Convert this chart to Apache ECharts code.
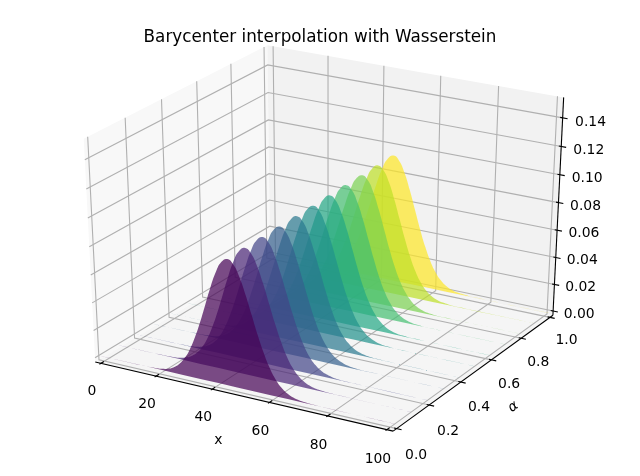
<!DOCTYPE html>
<html>
<head>
<meta charset="utf-8">
<style>html,body{margin:0;padding:0;background:#fff}#chart{width:640px;height:476px}</style>
<script src="https://cdn.jsdelivr.net/npm/echarts@6/dist/echarts.min.js"></script>
</head>
<body>
<div id="chart"></div>
<script>
var titleText = 'Barycenter interpolation with Wasserstein';
var xTicks = [0, 20, 40, 60, 80, 100];
var xTickLabels = ['0', '20', '40', '60', '80', '100'];
var alphaTicks = [0, 0.2, 0.4, 0.6, 0.8, 1];
var alphaTickLabels = ['0.0', '0.2', '0.4', '0.6', '0.8', '1.0'];
var zTicks = [0, 0.02, 0.04, 0.06, 0.08, 0.10, 0.12, 0.14];
var zTickLabels = ['0.00', '0.02', '0.04', '0.06', '0.08', '0.10', '0.12', '0.14'];
var xLim = [0, 100], alphaLim = [0, 1], zLim = [0, 0.151];

var alphas = [0, 0.1, 0.2, 0.3, 0.4, 0.5, 0.6, 0.7, 0.8, 0.9, 1];
var colors = ['#440154', '#482475', '#414487', '#355f8d', '#2a788e', '#21918c', '#22a884', '#44bf70', '#7ad151', '#bddf26', '#fde725'];
var xs = [0, 13, 15, 17, 19, 21, 23, 25, 27, 29, 31, 33, 35, 37, 39, 41, 43, 45, 47, 49, 51, 53, 55, 57, 59, 61, 63, 65, 67, 69, 71, 73, 75, 77, 79, 100];
var curve0 = [0, .0000, .0001, .0002, .0005, .0010, .0020, .0039, .0071, .0122, .0194, .0292, .0411, .0545, .0678, .0792, .0870, .0898, .0870, .0792, .0678, .0545, .0411, .0292, .0194, .0122, .0071, .0039, .0020, .0010, .0005, .0002, .0001, .0001, 0, 0];
var curve1 = [0, .0000, .0001, .0002, .0005, .0010, .0021, .0040, .0072, .0122, .0195, .0293, .0412, .0546, .0680, .0795, .0873, .0901, .0873, .0795, .0680, .0546, .0412, .0293, .0195, .0122, .0072, .0040, .0021, .0010, .0005, .0002, .0001, .0001, 0, 0];
var curve2 = [0, .0000, .0001, .0002, .0005, .0010, .0021, .0040, .0072, .0122, .0196, .0294, .0414, .0548, .0682, .0798, .0876, .0904, .0876, .0798, .0682, .0548, .0414, .0294, .0196, .0122, .0072, .0040, .0021, .0010, .0005, .0002, .0001, .0001, 0, 0];
var curve3 = [0, .0000, .0001, .0002, .0005, .0010, .0021, .0040, .0072, .0123, .0196, .0294, .0415, .0549, .0684, .0800, .0878, .0906, .0878, .0800, .0684, .0549, .0415, .0294, .0196, .0123, .0072, .0040, .0021, .0010, .0005, .0002, .0001, .0001, 0, 0];
var curve4 = [0, .0000, .0001, .0002, .0005, .0010, .0021, .0040, .0072, .0123, .0196, .0295, .0416, .0551, .0685, .0801, .0880, .0908, .0880, .0801, .0685, .0551, .0416, .0295, .0196, .0123, .0072, .0040, .0021, .0010, .0005, .0002, .0001, .0001, 0, 0];
var curve5 = [0, .0000, .0001, .0002, .0005, .0010, .0021, .0040, .0073, .0123, .0197, .0296, .0417, .0553, .0688, .0804, .0883, .0911, .0883, .0804, .0688, .0553, .0417, .0296, .0197, .0123, .0073, .0040, .0021, .0010, .0005, .0002, .0001, .0001, 0, 0];
var curve6 = [0, .0000, .0001, .0002, .0005, .0010, .0021, .0040, .0073, .0124, .0198, .0297, .0419, .0555, .0691, .0807, .0887, .0915, .0887, .0807, .0691, .0555, .0419, .0297, .0198, .0124, .0073, .0040, .0021, .0010, .0005, .0002, .0001, .0001, 0, 0];
var curve7 = [0, .0000, .0001, .0002, .0005, .0010, .0021, .0040, .0073, .0124, .0199, .0298, .0421, .0557, .0694, .0811, .0891, .0919, .0891, .0811, .0694, .0557, .0421, .0298, .0199, .0124, .0073, .0040, .0021, .0010, .0005, .0002, .0001, .0001, 0, 0];
var curve8 = [0, .0000, .0001, .0002, .0005, .0010, .0021, .0040, .0073, .0125, .0199, .0299, .0422, .0559, .0696, .0814, .0894, .0922, .0894, .0814, .0696, .0559, .0422, .0299, .0199, .0125, .0073, .0040, .0021, .0010, .0005, .0002, .0001, .0001, 0, 0];
var curve9 = [0, .0000, .0001, .0002, .0005, .0010, .0021, .0041, .0074, .0125, .0200, .0301, .0424, .0562, .0699, .0817, .0897, .0926, .0897, .0817, .0699, .0562, .0424, .0301, .0200, .0125, .0074, .0041, .0021, .0010, .0005, .0002, .0001, .0001, 0, 0];
var curve10 = [0, .0000, .0001, .0002, .0005, .0010, .0021, .0041, .0074, .0126, .0201, .0302, .0426, .0564, .0702, .0821, .0901, .0930, .0901, .0821, .0702, .0564, .0426, .0302, .0201, .0126, .0074, .0041, .0021, .0010, .0005, .0002, .0001, .0001, 0, 0];
var curves = [curve0, curve1, curve2, curve3, curve4, curve5, curve6, curve7, curve8, curve9, curve10];

// camera fitted to the picture, close to a default mplot3d view
var DELTA = 1 / 48, LO = -DELTA, HI = 1 + DELTA, ZSCALE = 0.97;
var el = 28 * Math.PI / 180, az = -60 * Math.PI / 180, DIST = 10;
var n = [Math.cos(az) * Math.cos(el), Math.sin(az) * Math.cos(el), Math.sin(el)];
var u = [-n[1], n[0], 0];
var uLen = Math.sqrt(u[0] * u[0] + u[1] * u[1]);
u = [u[0] / uLen, u[1] / uLen, 0];
var v = [n[1] * u[2] - n[2] * u[1], n[2] * u[0] - n[0] * u[2], n[0] * u[1] - n[1] * u[0]];

function dot(a, b) { return a[0] * b[0] + a[1] * b[1] + a[2] * b[2]; }
// p is in the unit cube, returns axes coordinates
function project(p) {
	var d = [p[0] - 0.5, p[1] - 0.5, (p[2] - 0.5) * ZSCALE];
	var w = DIST - dot(n, d);
	return [dot(u, d) / w, dot(v, d) / w];
}
function nx(x) { return (x - xLim[0]) / (xLim[1] - xLim[0]); }
function ny(a) { return (a - alphaLim[0]) / (alphaLim[1] - alphaLim[0]); }
function nz(z) { return (z - zLim[0]) / (zLim[1] - zLim[0]); }
function toPx(api, p) { return api.coord(project(p)); }
function linePts(api, pts) { return pts.map(function(p) { return toPx(api, p); }); }

function polyline(api, pts, color, width) {
	return {
		type: 'polyline',
		shape: { points: linePts(api, pts) },
		style: { stroke: color, lineWidth: width, fill: null }
	};
}

var panes = [
	{ color: 'rgb(248,248,248)', pts: [[LO, LO, LO], [LO, HI, LO], [LO, HI, HI], [LO, LO, HI]] },
	{ color: 'rgb(242,242,242)', pts: [[LO, HI, LO], [HI, HI, LO], [HI, HI, HI], [LO, HI, HI]] },
	{ color: 'rgb(245,245,245)', pts: [[LO, LO, LO], [HI, LO, LO], [HI, HI, LO], [LO, HI, LO]] }
];

function renderFrame(params, api) {
	var kids = [];
	panes.forEach(function(p) {
		kids.push({ type: 'polygon', shape: { points: linePts(api, p.pts) }, style: { fill: p.color } });
	});
	var grey = '#b0b0b0', gw = 1.1, black = '#000', tw = 1.1;
	xTicks.forEach(function(t) {
		var x = nx(t);
		kids.push(polyline(api, [[x, LO, LO], [x, HI, LO], [x, HI, HI]], grey, gw));
	});
	alphaTicks.forEach(function(t) {
		var y = ny(t);
		kids.push(polyline(api, [[HI, y, LO], [LO, y, LO], [LO, y, HI]], grey, gw));
	});
	zTicks.forEach(function(t) {
		var z = nz(t);
		kids.push(polyline(api, [[LO, LO, z], [LO, HI, z], [HI, HI, z]], grey, gw));
	});
	kids.push(polyline(api, [[LO, LO, LO], [HI, LO, LO]], black, tw));
	kids.push(polyline(api, [[HI, LO, LO], [HI, HI, LO]], black, tw));
	kids.push(polyline(api, [[HI, HI, LO], [HI, HI, HI]], black, tw));
	var tIn = 0.1 / 12, tOut = 0.2 / 12;
	function label(pos, text, dx, dy) {
		var c = toPx(api, pos);
		kids.push({
			type: 'text', x: c[0] + dx, y: c[1] + dy,
			style: { text: text, fill: '#000', font: '13.9px "DejaVu Sans"', align: 'center', verticalAlign: 'middle' }
		});
	}
	xTicks.forEach(function(t, i) {
		var x = nx(t);
		kids.push(polyline(api, [[x, LO - tIn, LO], [x, LO + tOut, LO]], black, tw));
		label([x, LO, LO], xTickLabels[i], -9, 28 + 1.5 * x);
	});
	alphaTicks.forEach(function(t, i) {
		var y = ny(t);
		kids.push(polyline(api, [[HI - tIn, y, LO], [HI + tOut, y, LO]], black, tw));
		label([HI, y, LO], alphaTickLabels[i], 19.5 - 3 * y, 27 - 3.5 * y);
	});
	zTicks.forEach(function(t, i) {
		var z = nz(t);
		kids.push(polyline(api, [[HI - tIn, HI, z], [HI + tOut, HI, z]], black, tw));
		label([HI, HI, z], zTickLabels[i], 26 + 2 * z, 3 + 1.5 * z);
	});
	// axis names, the alpha runs along its axis
	label([0.4, LO, LO], 'x', 6, 51.5);
	var a = toPx(api, [HI, 0.5, LO]);
	kids.push({
		type: 'text', x: a[0] + 37, y: a[1] + 36, rotation: 37 * Math.PI / 180,
		style: { text: 'α', fill: '#000', font: 'italic 13.9px "DejaVu Sans"', align: 'center', verticalAlign: 'middle' }
	});
	return { type: 'group', children: kids };
}

function renderCurve(params, api) {
	var i = api.value(0);
	var y = ny(alphas[i]);
	var pts = [];
	xs.forEach(function(x, k) { pts.push([nx(x), y, nz(curves[i][k])]); });
	return {
		type: 'polygon',
		shape: { points: linePts(api, pts), smooth: 0.5 },
		style: { fill: colors[i], opacity: 0.7 }
	};
}

// back to front, alpha = 1 is the farthest
var curveOrder = alphas.map(function(a, i) { return [alphas.length - 1 - i, 0]; });

var chart = echarts.init(document.getElementById('chart'));
chart.setOption({
	animation: false,
	title: {
		text: titleText, left: 'center', top: 24.5,
		textStyle: { color: '#000', fontSize: 16.8, fontWeight: 'normal', fontFamily: 'DejaVu Sans' }
	},
	grid: { left: 15.1, right: 15.9, top: 8.3, bottom: 10.75 },
	xAxis: { type: 'value', min: -0.095, max: 0.09, show: false },
	yAxis: { type: 'value', min: -0.095, max: 0.09, show: false },
	series: [
		{ type: 'custom', coordinateSystem: 'cartesian2d', silent: true, clip: false, z: 1, renderItem: renderFrame, data: [[0, 0]] },
		{ type: 'custom', coordinateSystem: 'cartesian2d', silent: true, clip: false, z: 2, renderItem: renderCurve, data: curveOrder }
	]
});
</script>
</body>
</html>
